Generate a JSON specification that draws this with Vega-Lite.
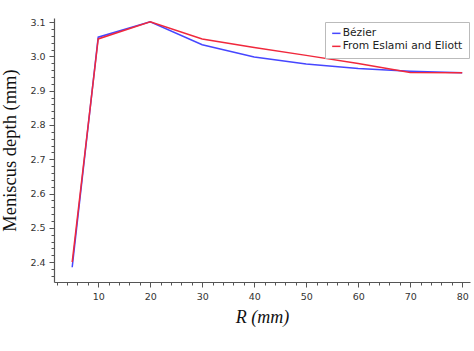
{
  "$schema": "https://vega.github.io/schema/vega-lite/v6.json",
  "width": 416,
  "height": 264,
  "autosize": {"type": "none"},
  "padding": {"left": 54, "top": 18, "right": 4, "bottom": 69},
  "background": "white",
  "config": {"view": {"stroke": null}},
  "data": {
    "values": [
      {"R": 5, "depth": 2.385, "series": "Bézier"},
      {"R": 10, "depth": 3.056, "series": "Bézier"},
      {"R": 20, "depth": 3.101, "series": "Bézier"},
      {"R": 30, "depth": 3.034, "series": "Bézier"},
      {"R": 40, "depth": 2.998, "series": "Bézier"},
      {"R": 50, "depth": 2.978, "series": "Bézier"},
      {"R": 60, "depth": 2.965, "series": "Bézier"},
      {"R": 70, "depth": 2.957, "series": "Bézier"},
      {"R": 80, "depth": 2.952, "series": "Bézier"},
      {"R": 5, "depth": 2.40, "series": "From Eslami and Eliott"},
      {"R": 10, "depth": 3.051, "series": "From Eslami and Eliott"},
      {"R": 20, "depth": 3.101, "series": "From Eslami and Eliott"},
      {"R": 30, "depth": 3.051, "series": "From Eslami and Eliott"},
      {"R": 40, "depth": 3.026, "series": "From Eslami and Eliott"},
      {"R": 50, "depth": 3.003, "series": "From Eslami and Eliott"},
      {"R": 60, "depth": 2.979, "series": "From Eslami and Eliott"},
      {"R": 70, "depth": 2.953, "series": "From Eslami and Eliott"},
      {"R": 80, "depth": 2.952, "series": "From Eslami and Eliott"}
    ]
  },
  "mark": {"type": "line", "strokeWidth": 1.5},
  "encoding": {
    "x": {
      "field": "R",
      "type": "quantitative",
      "scale": {"domain": [1.5, 81.5], "nice": false, "zero": false},
      "axis": {
        "title": "R (mm)",
        "titleFont": "Liberation Serif",
        "titleFontStyle": "italic",
        "titleFontWeight": "normal",
        "titleFontSize": 18,
        "titleColor": "#111",
        "titlePadding": 8,
        "values": [2,4,6,8,10,12,14,16,18,20,22,24,26,28,30,32,34,36,38,40,42,44,46,48,50,52,54,56,58,60,62,64,66,68,70,72,74,76,78,80],
        "labelExpr": "datum.value % 10 == 0 ? datum.label : ''",
        "tickSize": {"condition": {"test": "datum.value % 10 == 0", "value": 5}, "value": 3},
        "tickColor": "#555",
        "domainColor": "#555",
        "domainWidth": 1.2,
        "grid": false,
        "labelFont": "DejaVu Sans",
        "labelFontSize": 9.5,
        "labelColor": "#333",
        "labelPadding": 4,
        "labelOverlap": false
      }
    },
    "y": {
      "field": "depth",
      "type": "quantitative",
      "scale": {"domain": [2.342, 3.112], "nice": false, "zero": false},
      "axis": {
        "title": "Meniscus depth (mm)",
        "titleFont": "Liberation Serif",
        "titleFontWeight": "normal",
        "titleFontSize": 18.5,
        "titleColor": "#111",
        "titlePadding": 10,
        "values": [2.36,2.38,2.4,2.42,2.44,2.46,2.48,2.5,2.52,2.54,2.56,2.58,2.6,2.62,2.64,2.66,2.68,2.7,2.72,2.74,2.76,2.78,2.8,2.82,2.84,2.86,2.88,2.9,2.92,2.94,2.96,2.98,3.0,3.02,3.04,3.06,3.08,3.1],
        "labelExpr": "round(datum.value*100) % 10 == 0 ? format(datum.value, '.1f') : ''",
        "tickSize": {"condition": {"test": "round(datum.value*100) % 10 == 0", "value": 5}, "value": 3},
        "tickColor": "#555",
        "domainColor": "#555",
        "domainWidth": 1.2,
        "grid": false,
        "labelFont": "DejaVu Sans",
        "labelFontSize": 9.5,
        "labelColor": "#333",
        "labelPadding": 4,
        "labelOverlap": false
      }
    },
    "color": {
      "field": "series",
      "type": "nominal",
      "scale": {"domain": ["Bézier", "From Eslami and Eliott"], "range": ["#4646ff", "#f0283c"]},
      "legend": {
        "title": null,
        "orient": "none",
        "legendX": 271,
        "legendY": 4,
        "symbolType": "stroke",
        "symbolSize": 70,
        "symbolStrokeWidth": 1.5,
        "labelFont": "DejaVu Sans",
        "labelFontSize": 10.7,
        "labelColor": "#222",
        "labelOffset": 1,
        "rowPadding": 1,
        "padding": 6,
        "strokeColor": "#bbb",
        "fillColor": "white",
        "cornerRadius": 0
      }
    }
  }
}
